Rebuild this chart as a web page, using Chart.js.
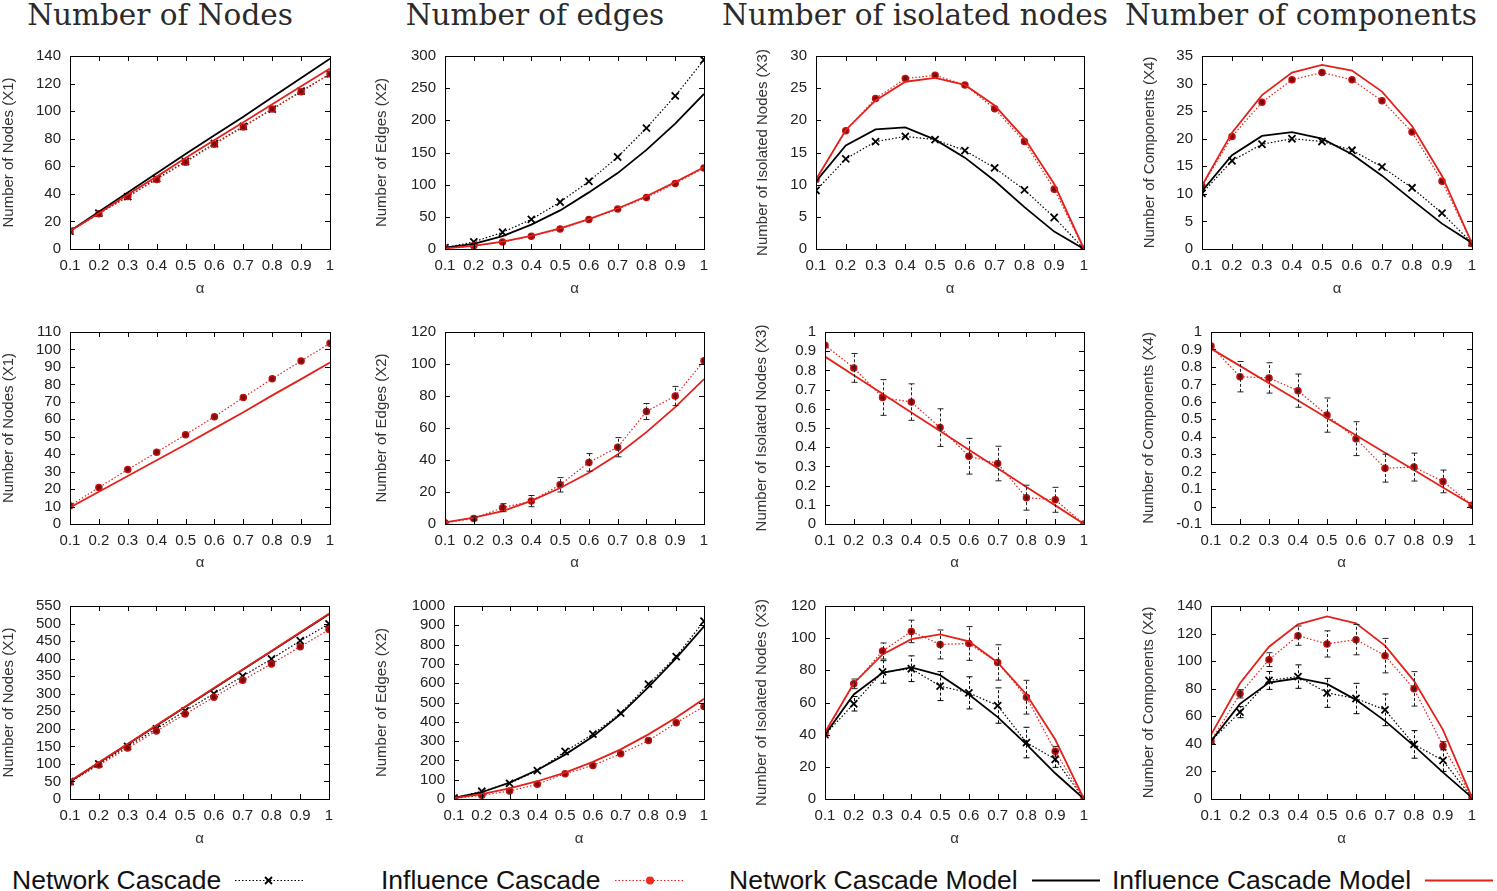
<!DOCTYPE html>
<html>
<head>
<meta charset="utf-8">
<script src="https://cdn.jsdelivr.net/npm/chart.js@4.4.1/dist/chart.umd.min.js"></script>
<style>
body { margin: 0; width: 1497px; height: 891px; background: #fff; position: relative; overflow: hidden; font-family: "Liberation Sans", Arial, sans-serif; }
.panel { position: absolute; }
.title { position: absolute; top: 0; line-height: 30px; font-family: "DejaVu Serif", serif; font-size: 29.5px; color: #2a2a2a; white-space: nowrap; transform: translateX(-50%); }
.leg { position: absolute; top: 865px; line-height: 30px; font-size: 26.5px; color: #111; white-space: nowrap; }
.sample { position: absolute; top: 870px; }
</style>
</head>
<body>
<div class="title" style="left:160px">Number of Nodes</div>
<div class="title" style="left:535px">Number of edges</div>
<div class="title" style="left:915px">Number of isolated nodes</div>
<div class="title" style="left:1301px">Number of components</div>

<div class="leg" style="left:12px">Network Cascade</div>
<canvas class="sample" id="s1" width="70" height="20" style="left:234px"></canvas>
<div class="leg" style="left:381px">Influence Cascade</div>
<canvas class="sample" id="s2" width="70" height="20" style="left:614px"></canvas>
<div class="leg" style="left:729px">Network Cascade Model</div>
<canvas class="sample" id="s3" width="70" height="20" style="left:1031px"></canvas>
<div class="leg" style="left:1112px">Influence Cascade Model</div>
<canvas class="sample" id="s4" width="70" height="20" style="left:1424px"></canvas>

<script>
const alphas = [0.1, 0.2, 0.3, 0.4, 0.5, 0.6, 0.7, 0.8, 0.9, 1];

// row 1
const r1NodesNet = [13, 26, 38, 51, 63.5, 76.5, 89, 101.5, 114.5, 127];
const r1NodesInf = [13, 25.5, 38, 50.5, 63, 76, 88.5, 101.5, 114, 127];
const r1NodesNetModel = [13, 27, 41, 55, 69, 82.5, 96, 110, 124, 138];
const r1NodesInfModel = [13, 26, 39.5, 52.5, 66, 79, 92, 105, 118, 131];

const r1EdgesNet = [2, 11, 26, 46, 73, 105, 143, 188, 238, 294];
const r1EdgesInf = [1, 5, 11, 20, 31, 46, 62, 80, 102, 126];
const r1EdgesNetModel = [2, 8, 20, 38, 60, 88, 118, 154, 195, 241];
const r1EdgesInfModel = [1, 5, 11.5, 20.5, 32, 46.5, 63, 82, 104, 127];

const r1IsoNet = [9.1, 14, 16.7, 17.5, 17, 15.3, 12.6, 9.2, 4.9, 0];
const r1IsoInf = [10.8, 18.4, 23.4, 26.5, 27, 25.5, 21.8, 16.7, 9.3, 0];
const r1IsoNetModel = [10.5, 16.1, 18.6, 18.9, 17, 14.2, 10.6, 6.5, 2.7, 0];
const r1IsoInfModel = [10.8, 18.5, 23.1, 26, 26.6, 25.5, 22.3, 17.2, 10.1, 0];

const r1CompNet = [10.1, 16, 19, 20, 19.5, 17.9, 14.9, 11.1, 6.5, 1.1];
const r1CompInf = [11.4, 20.4, 26.6, 30.7, 32, 30.7, 26.9, 21.2, 12.3, 1];
const r1CompNetModel = [10.5, 17, 20.5, 21.2, 20, 17.2, 13.3, 8.9, 4.6, 1.1];
const r1CompInfModel = [11.5, 21.1, 27.9, 32, 33.4, 32.35, 28.55, 22.3, 13.25, 1];

// row 2 (influence only, with error bars)
const r2NodesInf = [10.5, 20.9, 31.2, 41.1, 51.2, 61.5, 72.5, 83.2, 93.4, 103.5];
const r2NodesInfModel = [9.5, 18.5, 27.5, 36.5, 45.5, 54.8, 64, 73.7, 83, 92.5];

const r2EdgesInf = [0.8, 3.5, 10.2, 14.3, 24.5, 38.5, 48, 70.3, 80, 102];
const r2EdgesErr = [0, 1, 2.5, 3.5, 4.5, 5.5, 6, 5, 6, 0];
const r2EdgesInfModel = [1, 4, 8, 14.5, 22.5, 32, 43.5, 57.4, 73, 90.6];

const r2IsoInf = [0.931, 0.813, 0.659, 0.635, 0.502, 0.353, 0.315, 0.137, 0.126, 0];
const r2IsoErr = [0, 0.075, 0.093, 0.095, 0.098, 0.093, 0.09, 0.065, 0.065, 0];
const r2IsoInfModel = [0.872, 0.775, 0.678, 0.581, 0.484, 0.387, 0.29, 0.193, 0.097, 0];

const r2CompInf = [0.92, 0.744, 0.737, 0.664, 0.524, 0.389, 0.22, 0.226, 0.144, 0.008];
const r2CompErr = [0, 0.087, 0.087, 0.095, 0.098, 0.097, 0.08, 0.08, 0.065, 0];
const r2CompInfModel = [0.905, 0.806, 0.706, 0.607, 0.507, 0.408, 0.308, 0.209, 0.109, 0.01];

// row 3
const r3NodesNet = [50, 100, 150, 200, 251, 300, 350, 399, 451, 499];
const r3NodesInf = [48, 97, 145, 193.5, 242, 290, 338.5, 385, 434, 482.7];
const r3NodesNetModel = [50, 103, 156, 209, 262, 315, 368, 421, 474, 527];
const r3NodesInfModel = [51, 104, 157, 210, 263, 316, 369, 422, 475, 528];

const r3EdgesNet = [5, 40, 81, 147, 246, 336, 445, 595, 738, 921];
const r3EdgesInf = [3, 19, 41, 76, 131, 174, 234, 303, 395, 479];
const r3EdgesNetModel = [5, 35, 85, 150, 230, 324, 440, 580, 730, 895];
const r3EdgesInfModel = [5, 25, 55, 92, 137, 192, 257, 335, 422, 519];

const r3IsoNet = [40, 59.2, 79, 81, 70.2, 66, 58.1, 35.1, 24.7, 0];
const r3IsoNetErr = [0, 4.5, 7, 8, 9, 10, 11, 9.5, 5, 0];
const r3IsoInf = [40.9, 71.6, 92, 104.2, 96.1, 96.7, 84.9, 63.3, 29.7, 0];
const r3IsoInfErr = [0, 3, 5, 7, 9, 10.5, 11, 10.5, 3, 0];
const r3IsoNetModel = [40, 65, 78.5, 81.8, 77, 65, 50.9, 34, 16, 0];
const r3IsoInfModel = [41.5, 72, 89.9, 99.4, 102.3, 98, 84.9, 65, 37, 0];

const r3CompNet = [42.2, 63, 86, 88.8, 77, 72.9, 64.7, 39.6, 28, 1];
const r3CompNetErr = [0, 4, 6.5, 8.5, 10.5, 11, 11.5, 10, 8, 0];
const r3CompInf = [42, 76.3, 101.1, 118.5, 112.5, 115.6, 104, 79.9, 38.6, 1];
const r3CompInfErr = [0, 3, 5, 7, 9.5, 11, 12.5, 12.5, 3, 0];
const r3CompNetModel = [42, 69, 84.5, 87.6, 83.5, 71.9, 56.7, 38.5, 19.3, 1];
const r3CompInfModel = [46.6, 84, 110.5, 126.7, 132.5, 127.4, 111.3, 85.7, 50.2, 1];

const yTitles = ['Number of Nodes (X1)', 'Number of Edges (X2)', 'Number of Isolated Nodes (X3)', 'Number of Components (X4)'];

const RED = '#e3211b';
const DARKRED = '#7d0a0a';

// plot box [left, top, right, bottom], y title centre x, x title centre y
const panels = [
    { box: [70, 56, 330, 249], yt: 8, xt: 289, col: 0, y: [0, 140, 20], net: r1NodesNet, inf: r1NodesInf, netM: r1NodesNetModel, infM: r1NodesInfModel },
    { box: [445, 56, 704, 249], yt: 382, xt: 289, col: 1, y: [0, 300, 50], net: r1EdgesNet, inf: r1EdgesInf, netM: r1EdgesNetModel, infM: r1EdgesInfModel },
    { box: [816, 56, 1084, 249], yt: 763, xt: 289, col: 2, y: [0, 30, 5], net: r1IsoNet, inf: r1IsoInf, netM: r1IsoNetModel, infM: r1IsoInfModel },
    { box: [1202, 56, 1472, 249], yt: 1150, xt: 289, col: 3, y: [0, 35, 5], net: r1CompNet, inf: r1CompInf, netM: r1CompNetModel, infM: r1CompInfModel },

    { box: [70, 332, 330, 524], yt: 8, xt: 563, col: 0, y: [0, 110, 10], inf: r2NodesInf, infM: r2NodesInfModel },
    { box: [445, 332, 704, 524], yt: 382, xt: 563, col: 1, y: [0, 120, 20], inf: r2EdgesInf, infErr: r2EdgesErr, infM: r2EdgesInfModel },
    { box: [825, 332, 1084, 524], yt: 762, xt: 563, col: 2, y: [0, 1, 0.1], inf: r2IsoInf, infErr: r2IsoErr, infM: r2IsoInfModel },
    { box: [1211, 332, 1472, 524], yt: 1149, xt: 563, col: 3, y: [-0.1, 1, 0.1], inf: r2CompInf, infErr: r2CompErr, infM: r2CompInfModel },

    { box: [70, 606, 329, 799], yt: 8, xt: 839, col: 0, y: [0, 550, 50], net: r3NodesNet, inf: r3NodesInf, netM: r3NodesNetModel, infM: r3NodesInfModel },
    { box: [454, 606, 704, 799], yt: 382, xt: 839, col: 1, y: [0, 1000, 100], net: r3EdgesNet, inf: r3EdgesInf, netM: r3EdgesNetModel, infM: r3EdgesInfModel },
    { box: [825, 606, 1084, 799], yt: 762, xt: 839, col: 2, y: [0, 120, 20], net: r3IsoNet, netErr: r3IsoNetErr, inf: r3IsoInf, infErr: r3IsoInfErr, netM: r3IsoNetModel, infM: r3IsoInfModel },
    { box: [1211, 606, 1472, 799], yt: 1149, xt: 839, col: 3, y: [0, 140, 20], net: r3CompNet, netErr: r3CompNetErr, inf: r3CompInf, infErr: r3CompInfErr, netM: r3CompNetModel, infM: r3CompInfModel }
];

const pts = arr => alphas.map((a, i) => ({ x: a, y: arr[i] }));

// box around plot area with inward ticks (gnuplot style)
const frame = {
    id: 'frame',
    afterDraw(chart) {
        const { ctx, chartArea: a, scales: { x, y } } = chart;
        ctx.save();
        ctx.strokeStyle = '#000';
        ctx.lineWidth = 1;
        ctx.strokeRect(a.left + 0.5, a.top + 0.5, a.right - a.left, a.bottom - a.top);
        ctx.beginPath();
        x.ticks.forEach(t => {
            const px = Math.round(x.getPixelForValue(t.value)) + 0.5;
            ctx.moveTo(px, a.bottom); ctx.lineTo(px, a.bottom - 5);
            ctx.moveTo(px, a.top); ctx.lineTo(px, a.top + 5);
        });
        y.ticks.forEach(t => {
            const py = Math.round(y.getPixelForValue(t.value)) + 0.5;
            ctx.moveTo(a.left, py); ctx.lineTo(a.left + 5, py);
            ctx.moveTo(a.right, py); ctx.lineTo(a.right - 5, py);
        });
        ctx.stroke();
        ctx.restore();
    }
};

const errorBars = {
    id: 'errorBars',
    afterDatasetsDraw(chart) {
        const { ctx, scales: { x, y } } = chart;
        chart.data.datasets.forEach(ds => {
            if (!ds.errors) return;
            ctx.save();
            ctx.strokeStyle = ds.errorColor;
            ctx.lineWidth = 1;
            ds.data.forEach((p, i) => {
                const e = ds.errors[i];
                if (!e) return;
                const px = Math.round(x.getPixelForValue(p.x)) + 0.5;
                const y1 = y.getPixelForValue(p.y - e);
                const y2 = y.getPixelForValue(p.y + e);
                ctx.setLineDash([3, 2]);
                ctx.beginPath();
                ctx.moveTo(px, y1); ctx.lineTo(px, y2);
                ctx.stroke();
                ctx.setLineDash([]);
                ctx.beginPath();
                ctx.moveTo(px - 3, y1); ctx.lineTo(px + 3, y1);
                ctx.moveTo(px - 3, y2); ctx.lineTo(px + 3, y2);
                ctx.stroke();
            });
            ctx.restore();
        });
    }
};

function makePanel(p) {
    const [l, t, r, b] = p.box;
    const left = Math.max(0, p.yt - 9);
    const top = t - 10;
    const right = r + 15;
    const bottom = p.xt + 13;

    const canvas = document.createElement('canvas');
    canvas.className = 'panel';
    canvas.width = right - left;
    canvas.height = bottom - top;
    canvas.style.left = left + 'px';
    canvas.style.top = top + 'px';
    canvas.style.width = (right - left) + 'px';
    canvas.style.height = (bottom - top) + 'px';
    document.body.appendChild(canvas);

    const datasets = [];
    if (p.net) datasets.push({
        data: pts(p.net), errors: p.netErr, errorColor: '#000', order: 4,
        borderColor: '#000', borderWidth: 1.2, borderDash: [1.5, 2],
        pointStyle: 'crossRot', pointRadius: 5, pointBorderWidth: 1.8,
        pointBorderColor: '#000', pointBackgroundColor: '#000'
    });
    datasets.push({
        data: pts(p.inf), errors: p.infErr, errorColor: '#222', order: 3,
        borderColor: RED, borderWidth: 1.2, borderDash: [1.5, 2],
        pointStyle: 'circle', pointRadius: 3, pointBorderWidth: 1.5,
        pointBorderColor: '#c01010', pointBackgroundColor: DARKRED
    });
    if (p.netM) datasets.push({
        data: pts(p.netM), order: 2, borderColor: '#000', borderWidth: 1.8, pointRadius: 0
    });
    datasets.push({
        data: pts(p.infM), order: 1, borderColor: RED, borderWidth: 1.8, pointRadius: 0
    });

    const [yMin, yMax, yStep] = p.y;
    const yTicks = [];
    for (let k = 0; yMin + k * yStep <= yMax + 1e-9; k++)
        yTicks.push(Math.round((yMin + k * yStep) * 1000) / 1000);

    const tickFont = { family: '"Liberation Sans", Arial, sans-serif', size: 15 };

    new Chart(canvas, {
        type: 'line',
        data: { datasets: datasets },
        options: {
            responsive: false,
            animation: false,
            events: [],
            layout: { padding: { top: 10, right: 15, left: 0, bottom: 0 } },
            plugins: { legend: { display: false }, tooltip: { enabled: false } },
            scales: {
                x: {
                    type: 'linear', min: 0.1, max: 1,
                    afterBuildTicks: s => { s.ticks = alphas.map(v => ({ value: v })); },
                    afterFit: s => { s.height = bottom - b; },
                    grid: { display: false, drawTicks: false },
                    border: { display: false },
                    ticks: { color: '#222', font: tickFont, padding: 8, maxRotation: 0, autoSkip: false,
                        callback: v => String(+v.toFixed(2)) },
                    title: { display: true, text: 'α', color: '#333', font: tickFont, padding: { top: 4, bottom: 4 } }
                },
                y: {
                    type: 'linear', min: yMin, max: yMax,
                    afterBuildTicks: s => { s.ticks = yTicks.map(v => ({ value: v })); },
                    // fixed width, and no extra room asked for by the top label
                    afterFit: s => { s.width = l - left; s.paddingTop = 0; s.paddingBottom = 0; },
                    grid: { display: false, drawTicks: false },
                    border: { display: false },
                    ticks: { color: '#222', font: tickFont, padding: 9, autoSkip: false,
                        callback: v => String(+v.toFixed(2)) },
                    title: { display: true, text: yTitles[p.col], color: '#333', font: tickFont, padding: { top: 0, bottom: 0 } }
                }
            }
        },
        plugins: [errorBars, frame]
    });
}

panels.forEach(makePanel);

// legend samples
function sample(id, color, dotted, marker) {
    const ctx = document.getElementById(id).getContext('2d');
    ctx.strokeStyle = color;
    ctx.lineWidth = dotted ? 1.2 : 1.8;
    ctx.setLineDash(dotted ? [1.5, 2] : []);
    ctx.beginPath();
    ctx.moveTo(1, 10.5); ctx.lineTo(69, 10.5);
    ctx.stroke();
    ctx.setLineDash([]);
    if (marker === 'x') {
        ctx.lineWidth = 1.8;
        ctx.beginPath();
        ctx.moveTo(31, 7); ctx.lineTo(38, 14);
        ctx.moveTo(38, 7); ctx.lineTo(31, 14);
        ctx.stroke();
    } else if (marker === 'o') {
        ctx.fillStyle = '#ee2a1a';
        ctx.beginPath();
        ctx.arc(36, 10.5, 4, 0, Math.PI * 2);
        ctx.fill();
    }
}
sample('s1', '#000', true, 'x');
sample('s2', RED, true, 'o');
sample('s3', '#000', false, null);
sample('s4', RED, false, null);
</script>
</body>
</html>
